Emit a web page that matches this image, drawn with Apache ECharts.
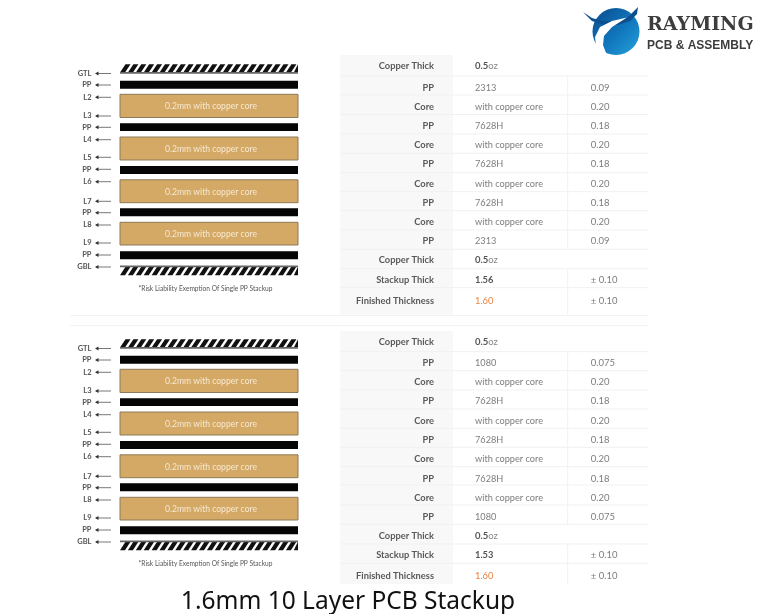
<!DOCTYPE html>
<html>
<head>
<meta charset="utf-8">
<title>1.6mm 10 Layer PCB Stackup</title>
<script src="https://cdn.jsdelivr.net/npm/echarts@6/dist/echarts.min.js"></script>
<style>
html, body { margin: 0; padding: 0; background: #fff; }
#main { width: 768px; height: 614px; }
</style>
</head>
<body>
<div id="main"></div>
<script>
// diagram
var layerNames = ['GTL', 'PP', 'L2', 'L3', 'PP', 'L4', 'L5', 'PP', 'L6', 'L7', 'PP', 'L8', 'L9', 'PP', 'GBL'];
var layerKinds = ['foil', 'pp', 'core', 'pp', 'core', 'pp', 'core', 'pp', 'core', 'pp', 'foilb'];
var coreText = '0.2mm with copper core';
var footNote = '*Risk Liability Exemption Of Single PP Stackup';

// table, top stackup
var rowNames = ['Copper Thick', 'PP', 'Core', 'PP', 'Core', 'PP', 'Core', 'PP', 'Core', 'PP', 'Copper Thick', 'Stackup Thick', 'Finished Thickness'];
var material1 = ['0.5', '2313', 'with copper core', '7628H', 'with copper core', '7628H', 'with copper core', '7628H', 'with copper core', '2313', '0.5', '1.56', '1.60'];
var thick1 = ['', '0.09', '0.20', '0.18', '0.20', '0.18', '0.20', '0.18', '0.20', '0.09', '', '± 0.10', '± 0.10'];
// table, bottom stackup
var material2 = ['0.5', '1080', 'with copper core', '7628H', 'with copper core', '7628H', 'with copper core', '7628H', 'with copper core', '1080', '0.5', '1.53', '1.60'];
var thick2 = ['', '0.075', '0.20', '0.18', '0.20', '0.18', '0.20', '0.18', '0.20', '0.075', '', '± 0.10', '± 0.10'];

// layout, in page pixels on the hidden axes
var layerTops = [64.3, 80.7, 94.3, 123.3, 137, 166, 179.8, 208.3, 222.3, 251.3, 265.3];
var layerBottoms = [74, 88.7, 117.5, 131, 160, 174, 202.7, 216.3, 245, 259.3, 275.3];
var nameYs = [73.5, 85, 97.3, 116, 127.3, 139.7, 157.3, 169.3, 181.7, 201.3, 212.7, 225, 243, 255, 267];
var rowEdges1 = [55, 76, 95, 114.5, 134, 153.3, 172.7, 191.7, 210.7, 230, 249.3, 268.7, 287.7, 314.5];
var rowEdges2 = [331, 351.7, 370.7, 390, 409, 428.3, 447.3, 466.7, 485, 505, 524.3, 544, 563.3, 584];
var textYs1 = [65.5, 87, 106, 125, 144, 163, 183, 202, 221, 240, 259.5, 279, 300];
var textYs2 = [341, 362, 381, 400, 420, 439, 458, 478, 497, 516, 535, 554, 575];
var offset2 = 275;

var font = 'Lato';

function text(api, x, y, str, size, color, align, weight) {
    var p = api.coord([x, y]);
    return {
        type: 'text',
        style: {
            x: p[0], y: p[1], text: str, fontFamily: font, fontSize: size, fill: color,
            align: align, verticalAlign: 'middle', fontWeight: weight || 'normal'
        }
    };
}

function box(api, x0, y0, x1, y1, style) {
    var a = api.coord([x0, y0]);
    var b = api.coord([x1, y1]);
    return { type: 'rect', shape: { x: a[0], y: a[1], width: b[0] - a[0], height: b[1] - a[1] }, style: style };
}

function line(api, x0, y0, x1, y1, color, w) {
    var a = api.coord([x0, y0]);
    var b = api.coord([x1, y1]);
    return { type: 'line', shape: { x1: a[0], y1: a[1], x2: b[0], y2: b[1] }, style: { stroke: color, lineWidth: w } };
}

// 斜纹铜箔层
function hatch(api, y0, y1, barTop) {
    var kids = [];
    var x;
    for (x = 120; x < 298; x += 7.9) {
        var a = api.coord([x, y1]);
        var b = api.coord([Math.min(x + 5.5, 298), y0]);
        var c = api.coord([Math.min(x + 10.5, 298), y0]);
        var d = api.coord([Math.min(x + 5, 298), y1]);
        kids.push({ type: 'polygon', shape: { points: [a, b, c, d] }, style: { fill: '#111' } });
    }
    if (barTop) {
        kids.push(box(api, 120, y0 - 1.2, 298, y0 + 0.4, { fill: '#666' }));
    } else {
        kids.push(box(api, 120, y1 - 0.4, 298, y1 + 1.2, { fill: '#666' }));
    }
    return kids;
}

function renderLayer(params, api) {
    var i = api.value(0);
    var off = api.value(1);
    var kind = layerKinds[i];
    var y0 = layerTops[i] + off;
    var y1 = layerBottoms[i] + off;
    if (kind === 'pp') {
        return box(api, 120, y0, 298, y1, { fill: '#050505' });
    }
    if (kind === 'core') {
        return {
            type: 'group',
            children: [
                box(api, 120, y0, 298, y1, { fill: '#d4a865', stroke: '#8d7a58', lineWidth: 1 }),
                text(api, 211, (y0 + y1) / 2 + 0.5, coreText, 8.6, '#f6e9d2', 'center')
            ]
        };
    }
    return { type: 'group', children: kind === 'foil' ? hatch(api, y0, y1 - 1.5, false) : hatch(api, y0 + 1.5, y1, true) };
}

function renderName(params, api) {
    var i = api.value(0);
    var y = nameYs[i] + api.value(1);
    var a = api.coord([95, y]);
    return {
        type: 'group',
        children: [
            text(api, 91.5, y, layerNames[i], 7.5, '#555', 'right', 'bold'),
            line(api, 96, y, 111, y, '#555', 0.8),
            { type: 'polygon', shape: { points: [[a[0], a[1]], [a[0] + 3.5, a[1] - 2], [a[0] + 3.5, a[1] + 2]] }, style: { fill: '#333' } }
        ]
    };
}

function renderTable(params, api) {
    var edges = api.value(0) === 1 ? rowEdges1 : rowEdges2;
    var kids = [box(api, 340, edges[0], 453, edges[edges.length - 1], { fill: '#f8f8f8' })];
    var i;
    for (i = 1; i < edges.length - 1; i++) {
        kids.push(line(api, 340, edges[i], 648, edges[i], '#f1f1f1', 1));
    }
    // 第三列分隔线，铜厚行没有
    for (i = 1; i < edges.length - 1; i++) {
        if (i === 10) continue;
        kids.push(line(api, 567.7, edges[i], 567.7, edges[i + 1], '#f1f1f1', 1));
    }
    return { type: 'group', children: kids };
}

function renderRow(params, api) {
    var t = api.value(0);
    var i = api.value(1);
    var y = (t === 1 ? textYs1 : textYs2)[i] + 0.7;
    var mat = (t === 1 ? material1 : material2)[i];
    var thk = (t === 1 ? thick1 : thick2)[i];
    var kids = [text(api, 434, y, rowNames[i], 9.3, '#5a5a5a', 'right', 'bold')];
    if (rowNames[i] === 'Copper Thick') {
        var p = api.coord([475, y]);
        kids.push({
            type: 'text',
            style: {
                x: p[0], y: p[1], verticalAlign: 'middle', fontFamily: font,
                text: '{a|' + mat + '}{b|oz}',
                rich: {
                    a: { fontFamily: font, fontSize: 9.5, fontWeight: 'bold', fill: '#555' },
                    b: { fontFamily: font, fontSize: 9.5, fill: '#888' }
                }
            }
        });
    } else if (i === 11) {
        kids.push(text(api, 475, y, mat, 9.3, '#555', 'left', 'bold'));
    } else if (i === 12) {
        kids.push(text(api, 475, y, mat, 9.3, '#e8833f', 'left'));
    } else {
        kids.push(text(api, 475, y, mat, 9.2, '#7d7d7d', 'left'));
    }
    if (thk) {
        kids.push(text(api, 590.7, y, thk, 9.5, '#7d7d7d', 'left'));
    }
    return { type: 'group', children: kids };
}

var layerData = [];
var nameData = [];
var rowData = [];
layerKinds.forEach(function (k, i) { layerData.push([i, 0], [i, offset2]); });
layerNames.forEach(function (n, i) { nameData.push([i, 0], [i, offset2]); });
rowNames.forEach(function (n, i) { rowData.push([1, i], [2, i]); });

var dom = document.getElementById('main');
var myChart = echarts.init(dom);
var option = {
    animation: false,
    backgroundColor: '#fff',
    title: {
        text: '1.6mm 10 Layer PCB Stackup',
        left: 343,
        top: 585,
        textAlign: 'center',
        textStyle: { fontFamily: 'Noto Sans', fontSize: 24.5, fontWeight: 'normal', color: '#111' }
    },
    grid: { left: 0, right: 0, top: 0, bottom: 0 },
    xAxis: { type: 'value', min: 0, max: 768, show: false },
    yAxis: { type: 'value', min: 0, max: 614, inverse: true, show: false },
    series: [
        { type: 'custom', coordinateSystem: 'cartesian2d', renderItem: renderTable, data: [[1], [2]], encode: { x: -1, y: -1 }, silent: true },
        { type: 'custom', coordinateSystem: 'cartesian2d', renderItem: renderLayer, data: layerData, encode: { x: -1, y: -1 }, silent: true },
        { type: 'custom', coordinateSystem: 'cartesian2d', renderItem: renderName, data: nameData, encode: { x: -1, y: -1 }, silent: true },
        { type: 'custom', coordinateSystem: 'cartesian2d', renderItem: renderRow, data: rowData, encode: { x: -1, y: -1 }, silent: true },
        {
            type: 'custom', coordinateSystem: 'cartesian2d', silent: true, data: [[0], [1]], encode: { x: -1, y: -1 },
            renderItem: function (params, api) {
                return text(api, 205.5, 289.3 + api.value(0) * offset2, footNote, 6.6, '#555', 'center');
            }
        }
    ],
    graphic: [
        // 分隔带
        { type: 'rect', shape: { x: 70, y: 315, width: 578, height: 1 }, style: { fill: '#f2f2f2' } },
        { type: 'rect', shape: { x: 70, y: 325, width: 578, height: 1 }, style: { fill: '#f2f2f2' } },
        // logo
        {
            type: 'circle', shape: { cx: 616, cy: 31.5, r: 23.5 },
            style: {
                fill: new echarts.graphic.LinearGradient(0, 0, 1, 1, [
                    { offset: 0, color: '#0a4a8c' },
                    { offset: 0.55, color: '#1177bd' },
                    { offset: 1, color: '#27a3dc' }
                ])
            }
        },
        {
            type: 'polygon',
            shape: { points: [[583, 12], [592, 18], [602, 21], [616, 21], [628, 17], [638, 7], [637, 14], [630, 21], [618, 25], [604, 25], [592, 21]] },
            style: { fill: '#0d4f8f' }
        },
        {
            type: 'polygon',
            shape: { points: [[627, 17.5], [612, 21], [600, 27], [595, 37], [596, 46], [607, 55.5], [603, 45], [604, 36], [612, 27]] },
            style: { fill: '#fff' }
        },
        { type: 'text', style: { x: 647, y: 16, text: 'RAYMING', fontFamily: 'DejaVu Serif', fontWeight: 'bold', fontSize: 19, fill: '#3d3d3d' } },
        { type: 'text', style: { x: 647, y: 39.5, text: 'PCB & ASSEMBLY', fontFamily: 'Liberation Sans', fontWeight: 'bold', fontSize: 12, fill: '#3d3d3d' } }
    ]
};
if (option && typeof option === "object") {
    myChart.setOption(option, true);
}
</script>
</body>
</html>
